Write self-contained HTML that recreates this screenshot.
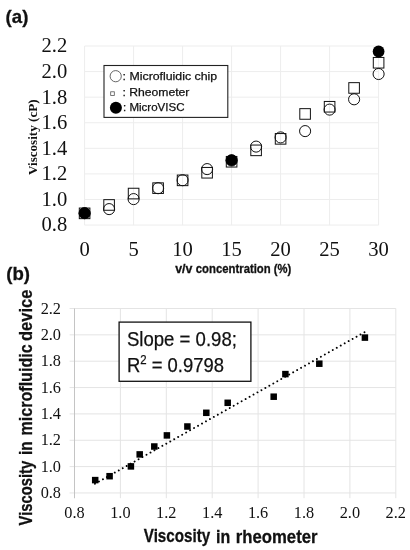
<!DOCTYPE html>
<html><head><meta charset="utf-8"><title>Figure</title>
<style>html,body{margin:0;padding:0;background:#fff}svg{display:block}.s{font-family:"Liberation Serif",serif;fill:#111}.b{font-family:"Liberation Sans",sans-serif;font-weight:bold;fill:#111;stroke:#111;stroke-width:0.3px}.n{font-family:"Liberation Sans",sans-serif;fill:#111;stroke:#111;stroke-width:0.25px}</style></head><body>
<svg width="410" height="550" viewBox="0 0 410 550">
<rect width="410" height="550" fill="#fff"/>
<g stroke="#ededed" stroke-width="1" fill="none">
<line x1="84.6" y1="46.00" x2="378.6" y2="46.00"/>
<line x1="84.6" y1="71.58" x2="378.6" y2="71.58"/>
<line x1="84.6" y1="97.16" x2="378.6" y2="97.16"/>
<line x1="84.6" y1="122.74" x2="378.6" y2="122.74"/>
<line x1="84.6" y1="148.32" x2="378.6" y2="148.32"/>
<line x1="84.6" y1="173.90" x2="378.6" y2="173.90"/>
<line x1="84.6" y1="199.48" x2="378.6" y2="199.48"/>
<line x1="84.6" y1="225.06" x2="378.6" y2="225.06"/>
<line x1="84.60" y1="46" x2="84.60" y2="225.1"/>
<line x1="133.60" y1="46" x2="133.60" y2="225.1"/>
<line x1="182.60" y1="46" x2="182.60" y2="225.1"/>
<line x1="231.60" y1="46" x2="231.60" y2="225.1"/>
<line x1="280.60" y1="46" x2="280.60" y2="225.1"/>
<line x1="329.60" y1="46" x2="329.60" y2="225.1"/>
<line x1="378.60" y1="46" x2="378.60" y2="225.1"/>
</g>
<text class="s" x="67.3" y="52.40" font-size="20.6" text-anchor="end">2.2</text>
<text class="s" x="67.3" y="77.98" font-size="20.6" text-anchor="end">2.0</text>
<text class="s" x="67.3" y="103.56" font-size="20.6" text-anchor="end">1.8</text>
<text class="s" x="67.3" y="129.14" font-size="20.6" text-anchor="end">1.6</text>
<text class="s" x="67.3" y="154.72" font-size="20.6" text-anchor="end">1.4</text>
<text class="s" x="67.3" y="180.30" font-size="20.6" text-anchor="end">1.2</text>
<text class="s" x="67.3" y="205.88" font-size="20.6" text-anchor="end">1.0</text>
<text class="s" x="67.3" y="231.46" font-size="20.6" text-anchor="end">0.8</text>
<text class="s" x="84.60" y="255.6" font-size="20.6" text-anchor="middle">0</text>
<text class="s" x="133.60" y="255.6" font-size="20.6" text-anchor="middle">5</text>
<text class="s" x="182.60" y="255.6" font-size="20.6" text-anchor="middle">10</text>
<text class="s" x="231.60" y="255.6" font-size="20.6" text-anchor="middle">15</text>
<text class="s" x="280.60" y="255.6" font-size="20.6" text-anchor="middle">20</text>
<text class="s" x="329.60" y="255.6" font-size="20.6" text-anchor="middle">25</text>
<text class="s" x="378.60" y="255.6" font-size="20.6" text-anchor="middle">30</text>
<text class="b" x="5.6" y="23" font-size="18.6">(a)</text>
<text class="b" x="6.2" y="280.2" font-size="18.6">(b)</text>
<text class="s" font-weight="bold" font-size="13" text-anchor="middle" transform="translate(37,137.2) rotate(-90)" textLength="75.5" lengthAdjust="spacingAndGlyphs">Viscosity (cP)</text>
<text class="b" x="175.2" y="272.8" font-size="12.4" textLength="17.2" lengthAdjust="spacingAndGlyphs">v/v</text>
<text class="b" x="195.8" y="272.8" font-size="12.4" textLength="74.9" lengthAdjust="spacingAndGlyphs">concentration</text>
<text class="b" x="273.8" y="272.8" font-size="12.4" textLength="17.5" lengthAdjust="spacingAndGlyphs">(%)</text>
<g stroke="#111" stroke-width="1" fill="none">
<rect x="79.30" y="208.05" width="10.6" height="10.6"/>
<rect x="103.80" y="199.65" width="10.6" height="10.6"/>
<rect x="128.30" y="188.25" width="10.6" height="10.6"/>
<rect x="152.80" y="182.85" width="10.6" height="10.6"/>
<rect x="177.30" y="175.05" width="10.6" height="10.6"/>
<rect x="201.80" y="167.45" width="10.6" height="10.6"/>
<rect x="226.30" y="156.45" width="10.6" height="10.6"/>
<rect x="250.80" y="145.05" width="10.6" height="10.6"/>
<rect x="275.30" y="133.55" width="10.6" height="10.6"/>
<rect x="299.80" y="108.65" width="10.6" height="10.6"/>
<rect x="324.30" y="101.45" width="10.6" height="10.6"/>
<rect x="348.80" y="82.65" width="10.6" height="10.6"/>
<rect x="373.30" y="57.45" width="10.6" height="10.6"/>
</g>
<g stroke="#111" stroke-width="1" fill="none">
<circle cx="84.60" cy="213.20" r="5.55"/>
<circle cx="109.10" cy="209.10" r="5.55"/>
<circle cx="133.60" cy="199.10" r="5.55"/>
<circle cx="158.10" cy="188.20" r="5.55"/>
<circle cx="182.60" cy="180.20" r="5.55"/>
<circle cx="207.10" cy="169.10" r="5.55"/>
<circle cx="231.60" cy="160.50" r="5.55"/>
<circle cx="256.10" cy="146.60" r="5.55"/>
<circle cx="280.60" cy="137.40" r="5.55"/>
<circle cx="305.10" cy="131.10" r="5.55"/>
<circle cx="329.60" cy="109.60" r="5.55"/>
<circle cx="354.10" cy="99.30" r="5.55"/>
<circle cx="378.60" cy="74.00" r="5.55"/>
</g>
<g fill="#000">
<circle cx="84.60" cy="213.20" r="5.9"/>
<circle cx="231.60" cy="160.20" r="5.9"/>
<circle cx="378.60" cy="51.50" r="5.9"/>
</g>
<rect x="104" y="65.5" width="123.8" height="51.9" fill="#fff" stroke="#222" stroke-width="1.1"/>
<circle cx="115.7" cy="76.2" r="5.6" fill="#fff" stroke="#555" stroke-width="0.9"/>
<rect x="110.7" y="91.8" width="3.6" height="3.6" fill="#fff" stroke="#555" stroke-width="0.8"/>
<circle cx="115.9" cy="107.8" r="6" fill="#000"/>
<text class="n" x="122.6" y="80" font-size="11.5" textLength="94.6" lengthAdjust="spacingAndGlyphs">: Microfluidic chip</text>
<text class="n" x="122.4" y="95.6" font-size="11.5" textLength="67" lengthAdjust="spacingAndGlyphs">: Rheometer</text>
<text class="n" x="123" y="110.8" font-size="11.5" textLength="61.5" lengthAdjust="spacingAndGlyphs">: MicroVISC</text>
<g stroke="#e4e4e4" stroke-width="1" fill="none">
<line x1="69.6" y1="308.50" x2="395.8" y2="308.50"/>
<line x1="69.6" y1="334.85" x2="395.8" y2="334.85"/>
<line x1="69.6" y1="361.20" x2="395.8" y2="361.20"/>
<line x1="69.6" y1="387.55" x2="395.8" y2="387.55"/>
<line x1="69.6" y1="413.90" x2="395.8" y2="413.90"/>
<line x1="69.6" y1="440.25" x2="395.8" y2="440.25"/>
<line x1="69.6" y1="466.60" x2="395.8" y2="466.60"/>
<line x1="69.6" y1="492.95" x2="395.8" y2="492.95"/>
<line x1="74.50" y1="308.5" x2="74.50" y2="498.2"/>
<line x1="120.40" y1="308.5" x2="120.40" y2="498.2"/>
<line x1="166.30" y1="308.5" x2="166.30" y2="498.2"/>
<line x1="212.20" y1="308.5" x2="212.20" y2="498.2"/>
<line x1="258.10" y1="308.5" x2="258.10" y2="498.2"/>
<line x1="304.00" y1="308.5" x2="304.00" y2="498.2"/>
<line x1="349.90" y1="308.5" x2="349.90" y2="498.2"/>
<line x1="395.80" y1="308.5" x2="395.80" y2="498.2"/>
</g>
<line x1="74.5" y1="308.5" x2="74.5" y2="498.2" stroke="#c4c4c4" stroke-width="1"/>
<text class="s" x="61" y="313.70" font-size="16.3" text-anchor="end">2.2</text>
<text class="s" x="61" y="340.05" font-size="16.3" text-anchor="end">2.0</text>
<text class="s" x="61" y="366.40" font-size="16.3" text-anchor="end">1.8</text>
<text class="s" x="61" y="392.75" font-size="16.3" text-anchor="end">1.6</text>
<text class="s" x="61" y="419.10" font-size="16.3" text-anchor="end">1.4</text>
<text class="s" x="61" y="445.45" font-size="16.3" text-anchor="end">1.2</text>
<text class="s" x="61" y="471.80" font-size="16.3" text-anchor="end">1.0</text>
<text class="s" x="61" y="498.15" font-size="16.3" text-anchor="end">0.8</text>
<text class="s" x="74.50" y="517.7" font-size="16.3" text-anchor="middle">0.8</text>
<text class="s" x="120.40" y="517.7" font-size="16.3" text-anchor="middle">1.0</text>
<text class="s" x="166.30" y="517.7" font-size="16.3" text-anchor="middle">1.2</text>
<text class="s" x="212.20" y="517.7" font-size="16.3" text-anchor="middle">1.4</text>
<text class="s" x="258.10" y="517.7" font-size="16.3" text-anchor="middle">1.6</text>
<text class="s" x="304.00" y="517.7" font-size="16.3" text-anchor="middle">1.8</text>
<text class="s" x="349.90" y="517.7" font-size="16.3" text-anchor="middle">2.0</text>
<text class="s" x="395.80" y="517.7" font-size="16.3" text-anchor="middle">2.2</text>
<line x1="364.5" y1="332.2" x2="94.9" y2="483.8" stroke="#000" stroke-width="1.9" stroke-linecap="round" stroke-dasharray="0.01 4.537"/>
<g fill="#000">
<rect x="91.95" y="476.85" width="6.5" height="6.5"/>
<rect x="106.35" y="472.95" width="6.5" height="6.5"/>
<rect x="127.65" y="463.15" width="6.5" height="6.5"/>
<rect x="136.45" y="451.15" width="6.5" height="6.5"/>
<rect x="151.05" y="443.25" width="6.5" height="6.5"/>
<rect x="163.65" y="432.15" width="6.5" height="6.5"/>
<rect x="184.15" y="423.25" width="6.5" height="6.5"/>
<rect x="203.05" y="409.55" width="6.5" height="6.5"/>
<rect x="224.45" y="399.55" width="6.5" height="6.5"/>
<rect x="270.45" y="393.45" width="6.5" height="6.5"/>
<rect x="282.15" y="370.85" width="6.5" height="6.5"/>
<rect x="316.05" y="360.45" width="6.5" height="6.5"/>
<rect x="361.65" y="334.35" width="6.5" height="6.5"/>
</g>
<rect x="119.1" y="322.1" width="131.8" height="59.2" fill="#fff" stroke="#111" stroke-width="1.3"/>
<text class="n" x="126.9" y="346" font-size="20.2" textLength="110" lengthAdjust="spacingAndGlyphs">Slope = 0.98;</text>
<text class="n" x="126.9" y="371.5" font-size="20.2" textLength="97" lengthAdjust="spacingAndGlyphs">R<tspan font-size="12.5" dy="-7.5">2</tspan><tspan dy="7.5"> = 0.9798</tspan></text>
<text class="b" font-size="18.8" transform="translate(32.3,525.4) rotate(-90)" textLength="64.6" lengthAdjust="spacingAndGlyphs">Viscosity</text>
<text class="b" font-size="18.8" transform="translate(32.3,455.0) rotate(-90)" textLength="13.7" lengthAdjust="spacingAndGlyphs">in</text>
<text class="b" font-size="18.8" transform="translate(32.3,435.6) rotate(-90)" textLength="91.3" lengthAdjust="spacingAndGlyphs">microfluidic</text>
<text class="b" font-size="18.8" transform="translate(32.3,341.0) rotate(-90)" textLength="51.3" lengthAdjust="spacingAndGlyphs">device</text>
<text class="b" x="143.8" y="542.4" font-size="19" textLength="66.4" lengthAdjust="spacingAndGlyphs">Viscosity</text>
<text class="b" x="216.0" y="542.6" font-size="19" textLength="14.2" lengthAdjust="spacingAndGlyphs">in</text>
<text class="b" x="235.8" y="542.6" font-size="19" textLength="81.7" lengthAdjust="spacingAndGlyphs">rheometer</text>
</svg></body></html>
